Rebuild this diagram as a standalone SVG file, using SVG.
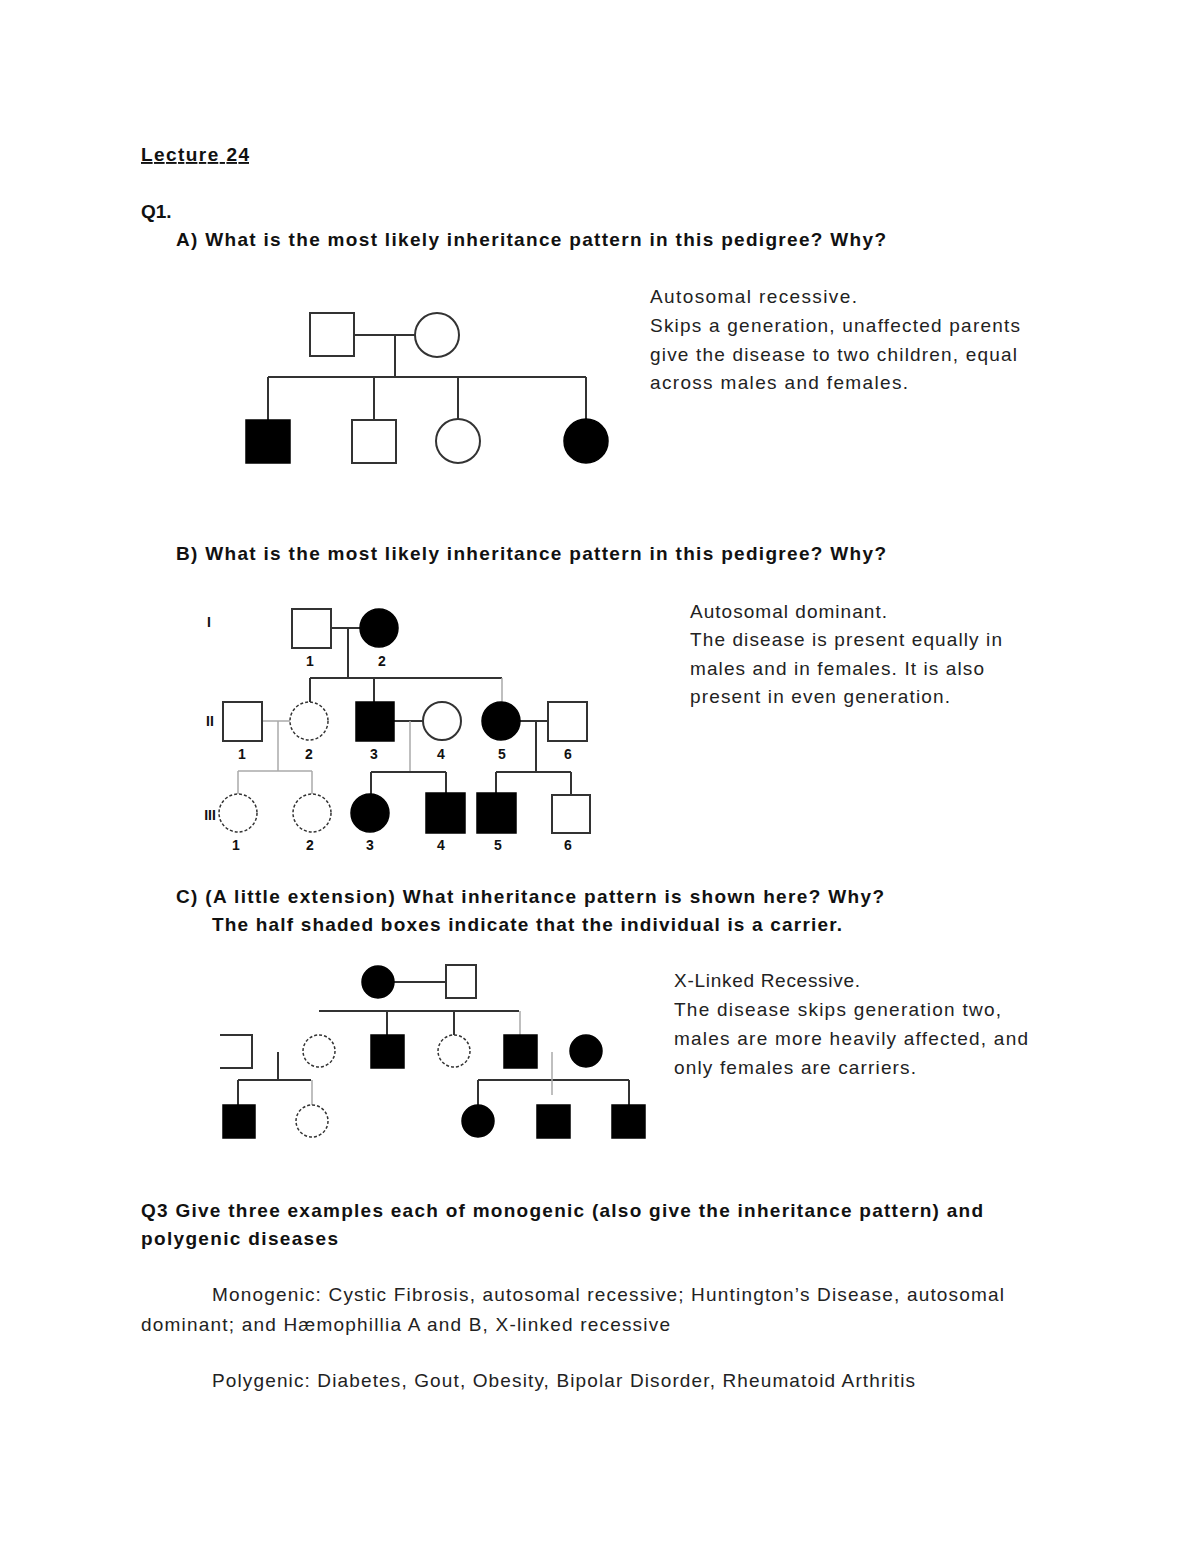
<svg xmlns="http://www.w3.org/2000/svg" width="1200" height="1553" viewBox="0 0 1200 1553">
<style>
text{font-family:"Liberation Sans",Arial,sans-serif;fill:#111}
.b{font-weight:bold;font-size:19px}
.n{font-size:19px;fill:#222}
.s{font-size:14px;font-weight:bold;text-anchor:middle}
.o{fill:#fff;stroke:#333;stroke-width:2}
.f{fill:#000;stroke:#000;stroke-width:1.5}
.d{fill:#fff;stroke:#333;stroke-width:1.5;stroke-dasharray:3 2}
.l{stroke:#333;stroke-width:2;fill:none}
.g{stroke:#aaa;stroke-width:1.5;fill:none}
</style>
<rect width="1200" height="1553" fill="#fff"/>
<text x="141" y="161" class="b" text-decoration="underline" textLength="108" lengthAdjust="spacing">Lecture 24</text>
<text x="141" y="218" class="b">Q1.</text>
<text x="176" y="246" class="b" textLength="710" lengthAdjust="spacing">A)  What is the most likely inheritance pattern in this pedigree? Why?</text>
<text x="176" y="560" class="b" textLength="710" lengthAdjust="spacing">B)  What is the most likely inheritance pattern in this pedigree? Why?</text>
<text x="176" y="903" class="b" textLength="708" lengthAdjust="spacing">C)  (A little extension) What inheritance pattern is shown here? Why?</text>
<text x="212" y="931" class="b" textLength="630" lengthAdjust="spacing">The half shaded boxes indicate that the individual is a carrier.</text>
<text x="650" y="303" class="n" textLength="207" lengthAdjust="spacing">Autosomal recessive.</text>
<text x="650" y="332" class="n" textLength="370" lengthAdjust="spacing">Skips a generation, unaffected parents</text>
<text x="650" y="361" class="n" textLength="367" lengthAdjust="spacing">give the disease to two children, equal</text>
<text x="650" y="389" class="n" textLength="258" lengthAdjust="spacing">across males and females.</text>
<text x="690" y="618" class="n" textLength="197" lengthAdjust="spacing">Autosomal dominant.</text>
<text x="690" y="646" class="n" textLength="312" lengthAdjust="spacing">The disease is present equally in</text>
<text x="690" y="675" class="n" textLength="294" lengthAdjust="spacing">males and in females. It is also</text>
<text x="690" y="703" class="n" textLength="260" lengthAdjust="spacing">present in even generation.</text>
<text x="674" y="987" class="n" textLength="186" lengthAdjust="spacing">X-Linked Recessive.</text>
<text x="674" y="1016" class="n" textLength="327" lengthAdjust="spacing">The disease skips generation two,</text>
<text x="674" y="1045" class="n" textLength="354" lengthAdjust="spacing">males are more heavily affected, and</text>
<text x="674" y="1074" class="n" textLength="242" lengthAdjust="spacing">only females are carriers.</text>
<text x="141" y="1217" class="b" textLength="842" lengthAdjust="spacing">Q3 Give three examples each of monogenic (also give the inheritance pattern) and</text>
<text x="141" y="1245" class="b" textLength="197" lengthAdjust="spacing">polygenic diseases</text>
<text x="212" y="1301" class="n" textLength="792" lengthAdjust="spacing">Monogenic: Cystic Fibrosis, autosomal recessive; Huntington’s Disease, autosomal</text>
<text x="141" y="1331" class="n" textLength="529" lengthAdjust="spacing">dominant; and Hæmophillia A and B, X-linked recessive</text>
<text x="212" y="1387" class="n" textLength="703" lengthAdjust="spacing">Polygenic: Diabetes, Gout, Obesity, Bipolar Disorder, Rheumatoid Arthritis</text>

<g id="connectors">
<path class="l" d="M354 335H415M395 335V377M268 377H586M268 377V420M374 377V420M458 377V419M586 377V419"/>
<path class="l" d="M331 628H360M348 628V678M310 678H502M310 678V702M374 678V702M394 721H423M520 721H548M536 721V772M496 772H571M496 772V793M571 772V795"/>
<path class="g" d="M502 678V702M262 721H290M278 721V771M238 771H312M238 771V794M312 771V794M410 721V771"/>
<path class="l" d="M371 772H446M371 772V794M446 772V793"/>
<path class="l" d="M394 982H446M319 1011H519M387 1011V1035M454 1011V1035M278 1052V1080M238 1080H311M238 1080V1105M478 1080H629M478 1080V1105M629 1080V1105M220 1035H252V1068H220"/>
<path class="g" d="M520 1011V1035M552 1052V1095M312 1080V1105"/>
</g>

<g id="pedA">
<rect id="A-f" class="o" x="310" y="313" width="44" height="43"/>
<circle id="A-m" class="o" cx="437" cy="335" r="22"/>
<rect id="A-c1" class="f" x="246" y="420" width="44" height="43"/>
<rect id="A-c2" class="o" x="352" y="420" width="44" height="43"/>
<circle id="A-c3" class="o" cx="458" cy="441" r="22"/>
<circle id="A-c4" class="f" cx="586" cy="441" r="22"/>
</g>

<g id="pedB">
<text x="209" y="627" class="s">I</text>
<text x="210" y="726" class="s">II</text>
<text x="210" y="820" class="s">III</text>
<rect id="I-1" class="o" x="292" y="609" width="39" height="39"/>
<circle id="I-2" class="f" cx="379" cy="628" r="19"/>
<text x="310" y="666" class="s">1</text><text x="382" y="666" class="s">2</text>
<rect id="II-1" class="o" x="223" y="702" width="39" height="39"/>
<circle id="II-2" class="d" cx="309" cy="721" r="19"/>
<rect id="II-3" class="f" x="356" y="702" width="38" height="39"/>
<circle id="II-4" class="o" cx="442" cy="721" r="19" stroke-width="1.5"/>
<circle id="II-5" class="f" cx="501" cy="721" r="19"/>
<rect id="II-6" class="o" x="548" y="702" width="39" height="39"/>
<text x="242" y="759" class="s">1</text><text x="309" y="759" class="s">2</text><text x="374" y="759" class="s">3</text><text x="441" y="759" class="s">4</text><text x="502" y="759" class="s">5</text><text x="568" y="759" class="s">6</text>
<circle id="III-1" class="d" cx="238" cy="813" r="19"/>
<circle id="III-2" class="d" cx="312" cy="813" r="19"/>
<circle id="III-3" class="f" cx="370" cy="813" r="19"/>
<rect id="III-4" class="f" x="426" y="793" width="39" height="40"/>
<rect id="III-5" class="f" x="477" y="793" width="39" height="40"/>
<rect id="III-6" class="o" x="552" y="795" width="38" height="38"/>
<text x="236" y="850" class="s">1</text><text x="310" y="850" class="s">2</text><text x="370" y="850" class="s">3</text><text x="441" y="850" class="s">4</text><text x="498" y="850" class="s">5</text><text x="568" y="850" class="s">6</text>
</g>

<g id="pedC">
<circle id="C-m" class="f" cx="378" cy="982" r="16"/>
<rect id="C-f" class="o" x="446" y="965" width="30" height="33" stroke-width="1.5"/>
<circle id="C-2a" class="d" cx="319" cy="1051" r="16"/>
<rect id="C-2b" class="f" x="371" y="1035" width="33" height="33"/>
<circle id="C-2c" class="d" cx="454" cy="1051" r="16"/>
<rect id="C-2d" class="f" x="504" y="1035" width="33" height="33"/>
<circle id="C-2e" class="f" cx="586" cy="1051" r="16"/>
<rect id="C-3a" class="f" x="223" y="1105" width="32" height="33"/>
<circle id="C-3b" class="d" cx="312" cy="1121" r="16"/>
<circle id="C-3c" class="f" cx="478" cy="1121" r="16"/>
<rect id="C-3d" class="f" x="537" y="1105" width="33" height="33"/>
<rect id="C-3e" class="f" x="612" y="1105" width="33" height="33"/>
</g>
</svg>
